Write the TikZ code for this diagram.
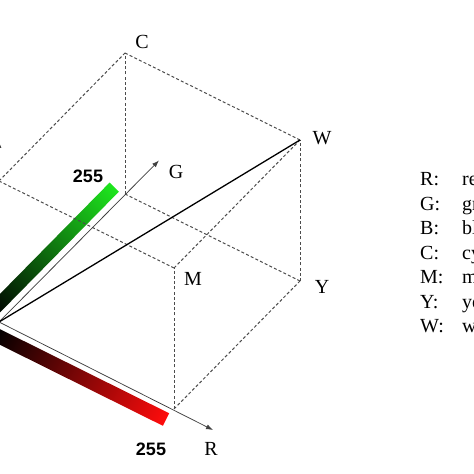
\documentclass[tikz,border=0pt]{standalone}
\usepackage{fontspec}
\setmainfont{Liberation Serif}
\newfontfamily\numfont{Liberation Sans}
\usetikzlibrary{arrows.meta}
\definecolor{bargreen}{RGB}{30,230,30}
\definecolor{barred}{RGB}{255,12,12}
\definecolor{barblue}{RGB}{20,20,255}
\begin{document}
\begin{tikzpicture}[x=1pt,y=1pt,
  edge/.style={dash pattern=on 3pt off 2.2pt, line width=1pt, black!70},
  axisline/.style={line width=0.75pt, black!75, -{Latex[length=7pt,width=5pt]}},
  diag/.style={line width=1.3pt, black},
  vlabel/.style={font=\fontsize{20}{24}\selectfont, inner sep=0pt},
  numlabel/.style={font=\numfont\bfseries\fontsize{18}{20}\selectfont, inner sep=0pt},
  keytext/.style={font=\fontsize{20}{24}\selectfont, anchor=base west, inner sep=0pt}]
\useasboundingbox (0,0) rectangle (474,474);
% cube vertices
\coordinate (O) at (-1,152);
\coordinate (R) at (174,65);
\coordinate (G) at (125,280);
\coordinate (B) at (-1,293);
\coordinate (M) at (174,206);
\coordinate (C) at (125,421);
\coordinate (Y) at (300,193);
\coordinate (W) at (300,334);
% axis tips
\coordinate (Rt) at (213,44);
\coordinate (Gt) at (159,313.5);
\coordinate (Bt) at (-1,333);
% shaded bars
\begin{scope}[transform canvas={shift={(-1pt,152pt)}, rotate=-26.43}]
  \shade[left color=black, right color=barred] (0,-20) rectangle (193,-6);
\end{scope}
\begin{scope}[transform canvas={shift={(-1pt,152pt)}, rotate=45.45}]
  \shade[left color=black, right color=bargreen] (0,6) rectangle (177,19);
\end{scope}
\begin{scope}[transform canvas={shift={(-1pt,152pt)}, rotate=90}]
  \shade[left color=black, right color=barblue] (0,6) rectangle (139,19);
\end{scope}
% dashed cube edges
\draw[edge] (R) -- (M);
\draw[edge] (R) -- (Y);
\draw[edge] (G) -- (C);
\draw[edge] (G) -- (Y);
\draw[edge] (B) -- (C);
\draw[edge] (B) -- (M);
\draw[edge] (M) -- (W);
\draw[edge] (C) -- (W);
\draw[edge] (Y) -- (W);
% axes
\draw[axisline] (O) -- (Rt);
\draw[axisline] (O) -- (Gt);
\draw[axisline] (O) -- (Bt);
% grey diagonal
\draw[diag] (O) -- (W);
% labels
\node[vlabel] (lC) at (142,432) {C};
\node[vlabel] (lG) at (176,302) {G};
\node[vlabel] (lW) at (322,336) {W};
\node[vlabel] (lM) at (193,195) {M};
\node[vlabel] (lY) at (322,187) {Y};
\node[vlabel] (lR) at (211,25) {R};
\node[numlabel] (ng) at (88,298) {255};
\node[numlabel] (nr) at (151,25) {255};
% legend
\node[keytext] (k1) at (420,288) {R:};
\node[keytext] (k2) at (420,263.5) {G:};
\node[keytext] (k3) at (420,239) {B:};
\node[keytext] (k4) at (420,214.5) {C:};
\node[keytext] (k5) at (420,190) {M:};
\node[keytext] (k6) at (420,165.5) {Y:};
\node[keytext] (k7) at (420,141) {W:};
\node[keytext] (w1) at (462,288) {red};
\node[keytext] (w2) at (462,263.5) {green};
\node[keytext] (w3) at (462,239) {blue};
\node[keytext] (w4) at (462,214.5) {cyan};
\node[keytext] (w5) at (462,190) {magenta};
\node[keytext] (w6) at (462,165.5) {yellow};
\node[keytext] (w7) at (462,141) {white};
\end{tikzpicture}
\end{document}
